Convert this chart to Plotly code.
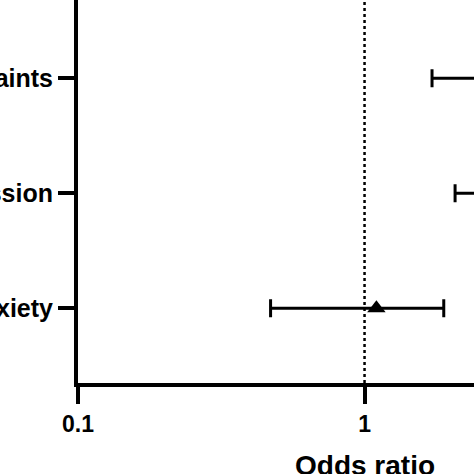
import plotly.graph_objects as go

categories = ["Somatic complaints", "Depression", "Anxiety"]
ypos = [3, 2, 1]
odds_ratio = [3.6, 4.2, 1.10]
ci_low = [1.72, 2.07, 0.47]
ci_high = [7.5, 8.5, 1.89]
axis_title = "Odds ratio"

err_plus = [h - o for h, o in zip(ci_high, odds_ratio)]
err_minus = [o - l for o, l in zip(odds_ratio, ci_low)]

font_family = "Liberation Sans, Arial, sans-serif"

fig = go.Figure()
fig.add_trace(go.Scatter(
    x=odds_ratio, y=ypos, mode="markers",
    marker=dict(symbol="triangle-up", size=16, color="black"),
    error_x=dict(type="data", array=err_plus, arrayminus=err_minus,
                 color="black", thickness=3, width=9),
    cliponaxis=True, showlegend=False,
))

fig.add_shape(type="line", xref="x", yref="paper", x0=1, x1=1, y0=0, y1=1,
              line=dict(color="black", width=2.5, dash="dot"), layer="below")

fig.add_annotation(text="<b>" + axis_title + "</b>", xref="x", yref="paper",
                   x=0, y=-0.17, xanchor="center", yanchor="top", showarrow=False,
                   font=dict(family=font_family, size=28, color="black"))

fig.update_layout(
    width=474, height=474,
    margin=dict(l=78, r=0, t=0, b=91),
    plot_bgcolor="white", paper_bgcolor="white",
    font=dict(family=font_family, size=24, color="black"),
    xaxis=dict(
        type="log", range=[-1, 0.382],
        tickvals=[0.1, 1, 10], ticktext=["0.1", "1", "10"],
        ticks="outside", ticklen=17, tickwidth=4, tickcolor="black",
        showline=True, linewidth=4, linecolor="black",
        showgrid=False, zeroline=False, automargin=False,
        tickfont=dict(family=font_family, size=23, color="black", weight="bold"),
    ),
    yaxis=dict(
        range=[0.35, 3.68],
        tickvals=ypos, ticktext=categories,
        ticks="outside", ticklen=16, tickwidth=4, tickcolor="black",
        showline=True, linewidth=4, linecolor="black",
        showgrid=False, zeroline=False, automargin=False,
        tickfont=dict(family=font_family, size=25, color="black", weight="bold"),
    ),
)

fig.write_html("out.html")
